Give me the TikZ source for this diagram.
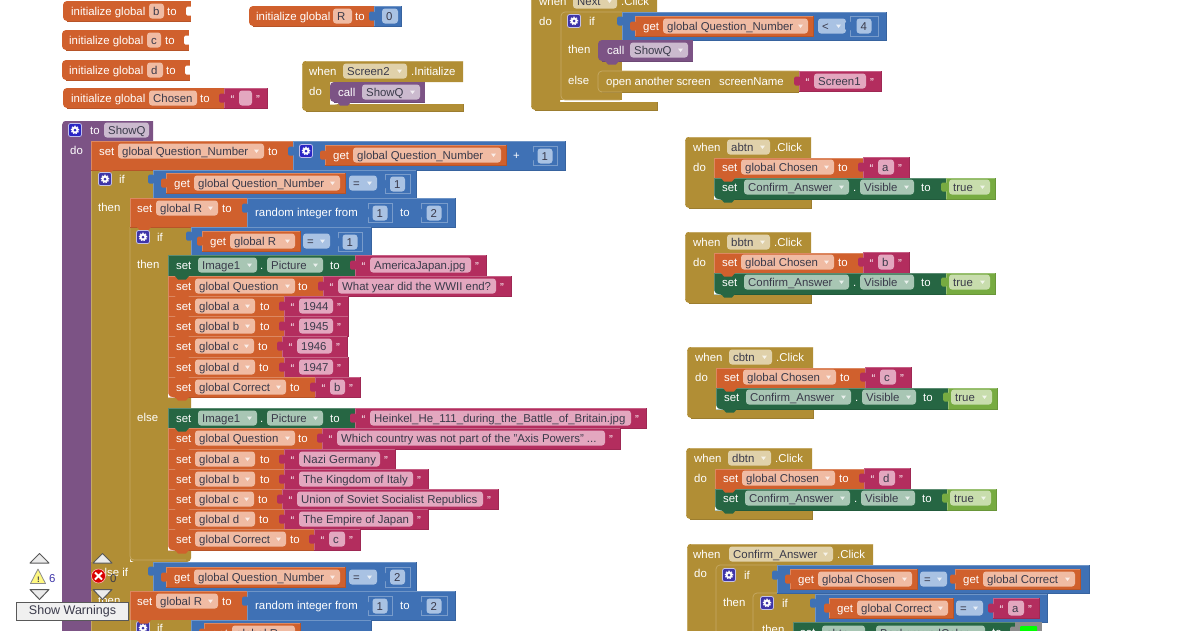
\documentclass[tikz,border=0pt]{standalone}
\usepackage{fontspec}
\setmainfont{Liberation Sans}
\definecolor{blkorange}{HTML}{D0602D}
\definecolor{blkblue}{HTML}{3F71B5}
\definecolor{blkmaroon}{HTML}{B32D5E}
\definecolor{blkgreen}{HTML}{266643}
\definecolor{blkpurple}{HTML}{7C5385}
\definecolor{blkgold}{HTML}{B18E35}
\definecolor{blklime}{HTML}{77AB41}
\definecolor{pillorange}{HTML}{F0BBA3}
\definecolor{pillblue}{HTML}{A9C2E3}
\definecolor{pillmaroon}{HTML}{E3A7BF}
\definecolor{pillgreen}{HTML}{A8C6B4}
\definecolor{pillpurple}{HTML}{CBBACE}
\definecolor{pillgold}{HTML}{E0D1AA}
\definecolor{pilllime}{HTML}{C8DDAD}
\definecolor{pilltextcol}{HTML}{3A3A4A}
\definecolor{gearblue}{HTML}{2A26C4}
\definecolor{gearpurple}{HTML}{3E35A8}
\tikzset{
  blklabel/.style={anchor=west,inner sep=0pt,text=white,text height=8pt,text depth=0pt,
    font=\fontsize{11.4}{12}\selectfont},
  pilllabel/.style={blklabel,text=pilltextcol},
  blkedge/.style={line width=0.7pt,draw=#1!75!white},
  blklow/.style={line width=0.7pt,draw=#1!88!black},
  tri/.style={fill=white!92!black,draw=black!65,line width=1pt,line join=round},
}
% x1 y1 x2 y2 colour
\newcommand{\blk}[5]{
  \fill[#5] (#1,#2) rectangle (#3,#4);
  \draw[blklow=#5] (#1,#4) -- (#3,#4) -- (#3,#2);
  \draw[blkedge=#5] (#1,#4) -- (#1,#2) -- (#3,#2);
}
\newcommand{\hatblk}[5]{
  \fill[#5,rounded corners=4pt] (#1,#2) rectangle (#1+12,#4);
  \fill[#5] (#1+6,#2) rectangle (#3,#4);
  \draw[blklow=#5] (#1+4,#4) -- (#3,#4);
}
\newcommand{\tabmark}[3]{\fill[#3,rounded corners=1.5pt] (#1-5,#2-4.5) rectangle (#1+1.5,#2+4.5);}
\newcommand{\bump}[3]{\fill[#3] (#1,#2) -- (#1+3,#2+3.5) -- (#1+11,#2+3.5) -- (#1+14,#2) -- cycle;}
\newcommand{\bite}[2]{\fill[white] (#1,#2+0.5) -- (#1,#2-3.5) .. controls (#1+0.5,#2-1) and (#1+2,#2) .. (#1+7,#2+0.5) -- cycle;}
\newcommand{\lab}[3]{\node[blklabel] at (#1,#2) {#3};}
% x1 x2 y colour text
\newcommand{\pill}[5]{
  \fill[#4,rounded corners=3pt] (#1,#3-7.5) rectangle (#2,#3+7.5);
  \node[pilllabel] at (#1+4,#3) {#5};
}
\newcommand{\dpill}[5]{
  \pill{#1}{#2}{#3}{#4}{#5}
  \fill[white,opacity=0.75] (#2-10,#3-1.5) -- (#2-5,#3-1.5) -- (#2-7.5,#3+2) -- cycle;
}
% x1 x2 y1 y2 text
\newcommand{\strblk}[5]{
  \blk{#1}{#3}{#2}{#4}{blkmaroon}
  \tabmark{#1}{#3+10}{blkmaroon}
  \node[blklabel] at (#1+6.5,#3+11) {“};
  \node[blklabel] at (#2-11,#3+11) {”};
  \pill{#1+15}{#2-15}{#3+10}{pillmaroon}{#5}
}
% x1 x2 yc text: get block with its pill
\newcommand{\getblk}[4]{
  \blk{#1}{#3-10}{#2}{#3+10}{blkorange}
  \tabmark{#1}{#3}{blkorange}
  \lab{#1+8}{#3}{get}
  \dpill{#1+28}{#2-5}{#3}{pillorange}{#4}
}
\newcommand{\numblk}[6]{
  \draw[line width=0.8pt,draw=#6!70!white] (#1,#3) rectangle (#2,#4);
  \tabmark{#1}{#3+10}{#6}
  \pgfmathsetmacro{\numleft}{(#1+#2)/2-7.5}
  \pgfmathsetmacro{\numright}{(#1+#2)/2+7.5}
  \pill{\numleft}{\numright}{#3+10}{pillblue}{#5}
}
\newcommand{\oppill}[4]{\dpill{#1}{#2}{#3}{pillblue}{#4}}
\newcommand{\gearicon}[3]{
  \fill[#3,draw=white!70!#3,line width=0.8pt,rounded corners=2pt] (#1-6.5,#2-6.5) rectangle (#1+6.5,#2+6.5);
  \draw[white,line width=1.3pt,dash pattern=on 1.3pt off 1.2pt] (#1,#2) circle (3.7pt);
  \fill[white] (#1,#2) circle (3.4pt);
  \fill[#3] (#1,#2) circle (1.5pt);
}
% y1 y2 pillend tox name xv xvend text
\newcommand{\setglobal}[8]{
  \blk{168}{#1}{#6}{#2}{blkorange}
  \lab{176}{#1+10}{set}
  \dpill{195}{#3}{#1+10}{pillorange}{#5}
  \lab{#4}{#1+10}{to}
  \strblk{#6}{#7}{#1}{#2}{#8}
}
% y1 y2 x2 text
\newcommand{\setpicture}[4]{
  \blk{168}{#1}{355}{#2}{blkgreen}
  \lab{176}{#1+10}{set}
  \dpill{198}{257}{#1+10}{pillgreen}{Image1}
  \lab{260}{#1+10}{.}
  \dpill{267}{323}{#1+10}{pillgreen}{Picture}
  \lab{330}{#1+10}{to}
  \strblk{355}{#3}{#1}{#2}{#4}
}
% x1 x2t x2b y1 y2 xin yi1 yi2
\newcommand{\whenshape}[8]{
  \fill[blkgold] (#2,#4) -- (#2,#7) -- (#6,#7) -- (#6,#8) -- (#3,#8) -- (#3,#5)
    [rounded corners=4pt] -- (#1,#5) -- (#1,#4) -- (#1+5,#4) [sharp corners] -- cycle;
  \draw[blkedge=blkgold] (#1,#5-4) -- (#1,#4+4) (#1+4,#4) -- (#2,#4);
  \draw[blklow=blkgold] (#1+4,#5) -- (#3,#5) -- (#3,#8);
}
\newcommand{\clickblk}[2]{
  \whenshape{0}{126}{126}{0}{71}{29}{21}{62}
  \lab{8}{10}{when}
  \dpill{42}{85}{10}{pillgold}{#1}
  \lab{89}{10}{.Click}
  \lab{8}{30}{do}
  \blk{29}{21}{178}{41}{blkorange}
  \lab{37}{30}{set}
  \dpill{56}{149}{30}{pillorange}{global Chosen}
  \lab{153}{30}{to}
  \strblk{178}{224}{20}{41}{#2}
  \blk{29}{41}{261}{62}{blkgreen}
  \lab{37}{50}{set}
  \dpill{59}{164}{50}{pillgreen}{Confirm\_Answer}
  \lab{168}{50}{.}
  \dpill{175}{229}{50}{pillgreen}{Visible}
  \lab{236}{50}{to}
  \blk{261}{41}{310}{62}{blklime}
  \tabmark{261}{50}{blklime}
  \dpill{264}{305}{50}{pilllime}{true}
  \bump{36}{41}{blkorange}
  \bump{36}{62}{blkgreen}
  \bite{29}{62}
}

\begin{document}
\begin{tikzpicture}[x=1pt,y=-1pt]
  \useasboundingbox (0,0) rectangle (1200,630);
  \clip (0,0) rectangle (1200,630);

  % global variables
  \hatblk{63}{1}{191}{21}{blkorange}
  \tabmark{191}{11}{white}
  \lab{71}{11}{initialize global}
  \pill{149}{164}{11}{pillorange}{b}
  \lab{167}{11}{to}
  \hatblk{62}{30}{189}{50}{blkorange}
  \tabmark{189}{40}{white}
  \lab{69}{40}{initialize global}
  \pill{147}{161}{40}{pillorange}{c}
  \lab{165}{40}{to}
  \hatblk{62}{60}{190}{80}{blkorange}
  \tabmark{190}{70}{white}
  \lab{69}{70}{initialize global}
  \pill{147}{163}{70}{pillorange}{d}
  \lab{166}{70}{to}
  \hatblk{63}{88}{224}{108}{blkorange}
  \lab{71}{98}{initialize global}
  \pill{149}{197}{98}{pillorange}{Chosen}
  \lab{200}{98}{to}
  \strblk{224}{267}{88}{108}{\phantom{i}}
  \hatblk{249}{6}{374}{26}{blkorange}
  \lab{256}{16}{initialize global}
  \pill{333}{352}{16}{pillorange}{R}
  \lab{355}{16}{to}
  \blk{374}{6}{401}{26}{blkblue}
  \tabmark{374}{16}{blkblue}
  \pill{382}{398}{16}{pillblue}{0}

  % Screen2 block
  \whenshape{302}{463}{463}{61}{111}{330}{82}{104}
  \lab{309}{71}{when}
  \dpill{343}{407}{71}{pillgold}{Screen2}
  \lab{411}{71}{.Initialize}
  \lab{309}{91}{do}
  \hatblk{330}{82}{425}{102}{blkpurple}
  \lab{338}{92}{call}
  \dpill{362}{420}{92}{pillpurple}{ShowQ}
  \bump{337}{102}{blkpurple}
  \bite{330}{104}

  % Next block
  \whenshape{531}{657}{657}{-12}{110}{560}{12}{102}
  \lab{539}{1}{when}
  \dpill{573}{617}{1}{pillgold}{Next}
  \lab{621}{1}{.Click}
  \lab{539}{21}{do}
  \fill[blkgold] (560,12) rectangle (622,100);
  \draw[blkedge=blkgold,rounded corners=4pt] (622,12) -- (561,12) -- (561,100) -- (620,100);
  \gearicon{574}{21}{gearpurple}
  \lab{589}{21}{if}
  \lab{568}{49}{then}
  \lab{568}{80}{else}
  \blk{622}{12}{886}{40}{blkblue}
  \tabmark{622}{21}{blkblue}
  \getblk{635}{813}{26}{global Question\_Number}
  \oppill{818}{846}{26}{<}
  \numblk{850}{878}{16}{36}{4}{blkblue}
  \hatblk{598}{40}{693}{61}{blkpurple}
  \lab{607}{50}{call}
  \dpill{630}{688}{50}{pillpurple}{ShowQ}
  \bump{605}{61}{blkpurple}
  \hatblk{598}{71}{799}{92}{blkgold}
  \draw[blkedge=blkgold,rounded corners=4pt] (799,71) -- (598,71) -- (598,92) -- (622,92);
  \lab{606}{81}{open another screen}
  \lab{719}{81}{screenName}
  \strblk{799}{881}{71}{91}{Screen1}

  % ShowQ procedure
  \fill[blkpurple] (153,121) -- (153,141) -- (91,141) -- (91,640) -- (62,640)
    [rounded corners=4pt] -- (62,121) -- (67,121) [sharp corners] -- cycle;
  \gearicon{75}{130}{gearblue}
  \lab{90}{130}{to}
  \pill{104}{149}{130}{pillpurple}{ShowQ}
  \lab{70}{150}{do}

  % outer if column
  \fill[blkgold] (91,170) rectangle (153,198) (91,198) rectangle (130,640);
  \draw[blkedge=blkgold] (91,640) -- (91,170);

  % inner if, first branch
  \fill[blkgold] (130,227) rectangle (191,255) (130,255) rectangle (168,397)
    (130,397) rectangle (191,408) (130,408) rectangle (168,550);
  \fill[blkgold,rounded corners=4pt] (130,540) rectangle (191,562);
  \fill[blkgold] (91,562) rectangle (153,591);
  \draw[blkedge=blkgold,rounded corners=4pt] (130,227) -- (130,560) -- (186,560);

  \blk{91}{141}{293}{170}{blkorange}
  \lab{99}{151}{set}
  \dpill{118}{264}{151}{pillorange}{global Question\_Number}
  \lab{268}{151}{to}
  \blk{293}{141}{565}{170}{blkblue}
  \tabmark{293}{151}{blkblue}
  \gearicon{306}{151}{gearblue}
  \getblk{325}{506}{155}{global Question\_Number}
  \lab{513}{155}{+}
  \numblk{533}{557}{146}{165}{1}{blkblue}
  \bump{99}{170}{blkorange}

  \gearicon{105}{179}{gearpurple}
  \lab{119}{179}{if}
  \lab{98}{207}{then}
  \blk{153}{170}{416}{198}{blkblue}
  \tabmark{153}{179}{blkblue}
  \getblk{166}{345}{183}{global Question\_Number}
  \oppill{349}{377}{183}{=}
  \numblk{385}{410}{174}{193}{1}{blkblue}

  \blk{130}{198}{247}{227}{blkorange}
  \lab{137}{208}{set}
  \dpill{156}{218}{208}{pillorange}{global R}
  \lab{222}{208}{to}
  \blk{247}{198}{455}{227}{blkblue}
  \tabmark{247}{208}{blkblue}
  \lab{255}{212}{random integer from}
  \numblk{368}{392}{203}{222}{1}{blkblue}
  \lab{400}{212}{to}
  \numblk{421}{447}{203}{222}{2}{blkblue}
  \bump{137}{227}{blkorange}

  \gearicon{143}{237}{gearpurple}
  \lab{157}{237}{if}
  \lab{137}{264}{then}
  \blk{191}{227}{371}{255}{blkblue}
  \tabmark{191}{236}{blkblue}
  \getblk{202}{300}{241}{global R}
  \oppill{303}{330}{241}{=}
  \numblk{338}{362}{232}{251}{1}{blkblue}

  \setpicture{255}{276}{486}{AmericaJapan.jpg}
  \setglobal{276}{296}{295}{298}{global Question}{323}{511}{What year did the WWII end?}
  \setglobal{296}{316}{255}{260}{global a}{284}{348}{1944}
  \setglobal{316}{336}{255}{260}{global b}{284}{348}{1945}
  \setglobal{336}{357}{254}{258}{global c}{282}{347}{1946}
  \setglobal{357}{377}{255}{259}{global d}{284}{348}{1947}
  \setglobal{377}{397}{286}{290}{global Correct}{315}{360}{b}
  \foreach \by/\bcol in {276/blkgreen,296/blkorange,316/blkorange,336/blkorange,357/blkorange,377/blkorange,397/blkorange}{
    \bump{175}{\by}{\bcol}
  }
  \bite{168}{397}
  \lab{137}{417}{else}

  \setpicture{408}{428}{646}{Heinkel\_He\_111\_during\_the\_Battle\_of\_Britain.jpg}
  \setglobal{428}{449}{295}{298}{global Question}{322}{620}{Which country was not part of the "Axis Powers" ...}
  \setglobal{449}{469}{255}{260}{global a}{284}{395}{Nazi Germany}
  \setglobal{469}{489}{255}{260}{global b}{284}{428}{The Kingdom of Italy}
  \setglobal{489}{509}{254}{258}{global c}{282}{498}{Union of Soviet Socialist Republics}
  \setglobal{509}{529}{255}{259}{global d}{284}{428}{The Empire of Japan}
  \setglobal{529}{550}{286}{290}{global Correct}{314}{360}{c}
  \foreach \by/\bcol in {428/blkgreen,449/blkorange,469/blkorange,489/blkorange,509/blkorange,529/blkorange,550/blkorange}{
    \bump{175}{\by}{\bcol}
  }
  \bite{168}{550}

  % else if branch
  \lab{98}{572}{else if}
  \lab{98}{600}{then}
  \blk{153}{562}{416}{591}{blkblue}
  \tabmark{153}{571}{blkblue}
  \getblk{166}{345}{577}{global Question\_Number}
  \oppill{349}{377}{577}{=}
  \numblk{385}{410}{567}{587}{2}{blkblue}
  \blk{130}{591}{247}{620}{blkorange}
  \lab{137}{601}{set}
  \dpill{156}{218}{601}{pillorange}{global R}
  \lab{222}{601}{to}
  \blk{247}{591}{455}{620}{blkblue}
  \tabmark{247}{601}{blkblue}
  \lab{255}{605}{random integer from}
  \numblk{368}{392}{596}{615}{1}{blkblue}
  \lab{400}{605}{to}
  \numblk{421}{447}{596}{615}{2}{blkblue}
  \fill[blkgold] (130,620) rectangle (191,640);
  \draw[blkedge=blkgold] (130,620) -- (130,640);
  \gearicon{143}{628}{gearpurple}
  \lab{157}{628}{if}
  \blk{191}{620}{371}{640}{blkblue}
  \getblk{204}{300}{633}{global R}
  \bump{137}{620}{blkorange}

  % click handlers
  \foreach \bx/\by/\bname/\bletter in {685/137/abtn/a,685/232/bbtn/b,687/347/cbtn/c,686/448/dbtn/d}{
    \begin{scope}[shift={(\bx,\by)}]
      \clickblk{\bname}{\bletter}
    \end{scope}
  }

  % Confirm_Answer block
  \whenshape{687}{873}{873}{544}{700}{715}{565}{660}
  \lab{693}{554}{when}
  \dpill{729}{833}{554}{pillgold}{Confirm\_Answer}
  \lab{837}{554}{.Click}
  \lab{694}{573}{do}
  \fill[blkgold] (715,565) rectangle (777,593) (715,593) rectangle (793,640);
  \fill[blkgold] (753,593) rectangle (815,622);
  \draw[blkedge=blkgold,rounded corners=4pt] (777,565) -- (716,565) -- (716,640);
  \draw[blkedge=blkgold,rounded corners=4pt] (815,593) -- (753,593) -- (753,640);
  \gearicon{729}{575}{gearpurple}
  \lab{744}{575}{if}
  \lab{723}{602}{then}
  \blk{777}{565}{1089}{593}{blkblue}
  \tabmark{777}{575}{blkblue}
  \getblk{790}{917}{579}{global Chosen}
  \oppill{920}{947}{579}{=}
  \getblk{955}{1080}{579}{global Correct}
  \gearicon{767}{603}{gearpurple}
  \lab{782}{603}{if}
  \lab{762}{629}{then}
  \blk{815}{594}{1047}{622}{blkblue}
  \tabmark{815}{603}{blkblue}
  \getblk{829}{953}{608}{global Correct}
  \oppill{956}{983}{608}{=}
  \strblk{993}{1039}{598}{618}{a}
  \blk{793}{622}{1015}{640}{blkgreen}
  \lab{800}{632}{set}
  \dpill{822}{865}{633}{pillgreen}{abtn}
  \lab{869}{632}{.}
  \dpill{876}{985}{633}{pillgreen}{BackgroundColor}
  \lab{992}{632}{to}
  \fill[black!45] (1015,622) rectangle (1042,640);
  \tabmark{1015}{631}{black!45}
  \fill[green,rounded corners=1pt] (1020,626) rectangle (1037,640);

  % warning indicator
  \draw[tri] (30,563) -- (39.5,553.5) -- (49,563) -- cycle;
  \draw[tri] (30,589.5) -- (39.5,599.5) -- (49,589.5) -- cycle;
  \fill[yellow!50!white,draw=black!45,line join=round,line width=0.8pt] (30.5,583.5) -- (38,569) -- (45.5,583.5) -- cycle;
  \node[pilllabel,font=\fontsize{8}{9}\selectfont\bfseries] (warnmark) at (36.8,578) {!};
  \node[pilllabel,text=gearpurple] (warncount) at (49,578) {6};
  \draw[tri] (93,563) -- (102.5,553.5) -- (112,563) -- cycle;
  \draw[tri] (93,589.5) -- (102.5,599.5) -- (112,589.5) -- cycle;
  \fill[red!85!black,draw=white!70!red,line width=0.6pt] (98.5,576) circle (7pt);
  \draw[white,line width=1.8pt] (95,572.5) -- (102,579.5) (95,579.5) -- (102,572.5);
  \node[pilllabel] (errcount) at (110,578) {0};
  \node[draw=black!65,line width=1.3pt,fill=black!6,minimum width=112pt,minimum height=18.5pt,
    inner sep=0pt,text=pilltextcol,font=\fontsize{12.5}{13}\selectfont] (warnbtn) at (72.5,611.5) {Show Warnings};
\end{tikzpicture}
\end{document}
